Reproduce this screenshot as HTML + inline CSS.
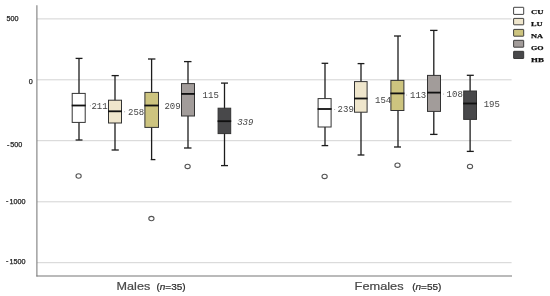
<!DOCTYPE html>
<html><head><meta charset="utf-8"><title>Boxplot</title>
<style>
html,body{margin:0;padding:0;background:#fff;}
body{width:550px;height:296px;overflow:hidden;}
svg{display:block;}
.yl{font-family:"Liberation Sans",Arial,sans-serif;font-size:7.2px;fill:#222;stroke:#222;stroke-width:0.25;}
.dl{font-family:"Liberation Mono","DejaVu Sans Mono",monospace;font-size:9px;fill:#444;}
.lg{font-family:"Liberation Serif","Times New Roman",serif;font-size:6.9px;font-weight:bold;fill:#111;stroke:#111;stroke-width:0.25;}
.xl{font-family:"Liberation Sans",Arial,sans-serif;font-size:10.6px;fill:#484848;stroke:#484848;stroke-width:0.2;}
.xn{font-family:"Liberation Sans",Arial,sans-serif;font-size:8.6px;fill:#2a2a2a;stroke:#2a2a2a;stroke-width:0.2;}
</style></head><body>
<svg width="550" height="296" viewBox="0 0 550 296">
<rect width="550" height="296" fill="#fff"/>

<line x1="37" y1="18.9" x2="511.6" y2="18.9" stroke="#d3d3d3" stroke-width="1"/>
<line x1="37" y1="79.8" x2="511.6" y2="79.8" stroke="#d3d3d3" stroke-width="1"/>
<line x1="37" y1="140.7" x2="511.6" y2="140.7" stroke="#d3d3d3" stroke-width="1"/>
<line x1="37" y1="201.8" x2="511.6" y2="201.8" stroke="#d3d3d3" stroke-width="1"/>
<line x1="37" y1="262.7" x2="511.6" y2="262.7" stroke="#d3d3d3" stroke-width="1"/>
<line x1="36.9" y1="5.2" x2="36.9" y2="276.5" stroke="#777" stroke-width="1.05"/>
<line x1="36.4" y1="276" x2="512" y2="276" stroke="#777" stroke-width="1.1"/>
<text class="yl" x="6.6" y="20.5">500</text>
<text class="yl" x="28.7" y="83.7">0</text>
<text class="yl" y="147.4"><tspan x="6.9" dy="-0.9">-</tspan><tspan x="10.3" dy="0.9">500</tspan></text>
<text class="yl" y="204"><tspan x="6.0" dy="-0.9">-</tspan><tspan x="9.5" dy="0.9">1000</tspan></text>
<text class="yl" y="264"><tspan x="6.0" dy="-0.9">-</tspan><tspan x="9.5" dy="0.9">1500</tspan></text>
<g stroke="#1c1c1c" stroke-width="1.3" fill="none">
<line x1="79" y1="58.4" x2="79" y2="140"/>
<line x1="75.6" y1="58.4" x2="82.5" y2="58.4"/>
<line x1="75.6" y1="140" x2="82.5" y2="140"/>
<rect x="72.2" y="93.4" width="13.0" height="29.0" fill="#ffffff" stroke="#333" stroke-width="1"/>
<line x1="71.7" y1="105.5" x2="85.7" y2="105.5" stroke="#111" stroke-width="1.8"/>
</g>
<g stroke="#1c1c1c" stroke-width="1.3" fill="none">
<line x1="115" y1="75.6" x2="115" y2="150"/>
<line x1="111.6" y1="75.6" x2="118.8" y2="75.6"/>
<line x1="111.6" y1="150" x2="118.8" y2="150"/>
<rect x="108.5" y="100.2" width="13" height="22.8" fill="#efe6cc" stroke="#333" stroke-width="1"/>
<line x1="108" y1="111.3" x2="122" y2="111.3" stroke="#111" stroke-width="1.8"/>
</g>
<g stroke="#1c1c1c" stroke-width="1.3" fill="none">
<line x1="151.6" y1="59" x2="151.6" y2="159.6"/>
<line x1="148" y1="59" x2="155.4" y2="59"/>
<line x1="150.7" y1="159.6" x2="155.4" y2="159.6"/>
<rect x="144.9" y="92.4" width="13.6" height="35.0" fill="#cdc47f" stroke="#333" stroke-width="1"/>
<line x1="144.4" y1="105.5" x2="159" y2="105.5" stroke="#111" stroke-width="1.8"/>
</g>
<g stroke="#1c1c1c" stroke-width="1.3" fill="none">
<line x1="188" y1="61.6" x2="188" y2="148"/>
<line x1="184" y1="61.6" x2="191.5" y2="61.6"/>
<line x1="184" y1="148" x2="191.5" y2="148"/>
<rect x="181.5" y="83.6" width="13" height="32.4" fill="#a29c9a" stroke="#333" stroke-width="1"/>
<line x1="181" y1="93.9" x2="195" y2="93.9" stroke="#111" stroke-width="1.8"/>
</g>
<g stroke="#1c1c1c" stroke-width="1.3" fill="none">
<line x1="224.5" y1="83.1" x2="224.5" y2="165.6"/>
<line x1="221" y1="83.1" x2="228" y2="83.1"/>
<line x1="221" y1="165.6" x2="228" y2="165.6"/>
<rect x="218.1" y="108.2" width="12.6" height="25.4" fill="#48484a" stroke="#333" stroke-width="1"/>
<line x1="217.6" y1="121.2" x2="231.2" y2="121.2" stroke="#111" stroke-width="1.8"/>
</g>
<g stroke="#1c1c1c" stroke-width="1.3" fill="none">
<line x1="325" y1="63.3" x2="325" y2="145.6"/>
<line x1="321.6" y1="63.3" x2="328.2" y2="63.3"/>
<line x1="321.6" y1="145.6" x2="328.2" y2="145.6"/>
<rect x="318.1" y="98.6" width="13.0" height="28.4" fill="#ffffff" stroke="#333" stroke-width="1"/>
<line x1="317.6" y1="109" x2="331.6" y2="109" stroke="#111" stroke-width="1.8"/>
</g>
<g stroke="#1c1c1c" stroke-width="1.3" fill="none">
<line x1="361" y1="63.6" x2="361" y2="155"/>
<line x1="357.6" y1="63.6" x2="364.4" y2="63.6"/>
<line x1="357.6" y1="155" x2="364.4" y2="155"/>
<rect x="354.5" y="81.6" width="12.6" height="30.6" fill="#efe6cc" stroke="#333" stroke-width="1"/>
<line x1="354" y1="98.5" x2="367.6" y2="98.5" stroke="#111" stroke-width="1.8"/>
</g>
<g stroke="#1c1c1c" stroke-width="1.3" fill="none">
<line x1="398" y1="36" x2="398" y2="147"/>
<line x1="394" y1="36" x2="401" y2="36"/>
<line x1="394" y1="147" x2="401" y2="147"/>
<rect x="390.9" y="80.4" width="13.0" height="30.1" fill="#cdc47f" stroke="#333" stroke-width="1"/>
<line x1="390.4" y1="93.4" x2="404.4" y2="93.4" stroke="#111" stroke-width="1.8"/>
</g>
<g stroke="#1c1c1c" stroke-width="1.3" fill="none">
<line x1="433.8" y1="30.4" x2="433.8" y2="134.4"/>
<line x1="430.1" y1="30.4" x2="437.5" y2="30.4"/>
<line x1="430.1" y1="134.4" x2="437.5" y2="134.4"/>
<rect x="427.5" y="75.4" width="13" height="36.0" fill="#a29c9a" stroke="#333" stroke-width="1"/>
<line x1="427" y1="92.6" x2="441" y2="92.6" stroke="#111" stroke-width="1.8"/>
</g>
<g stroke="#1c1c1c" stroke-width="1.3" fill="none">
<line x1="470.1" y1="75.3" x2="470.1" y2="151.4"/>
<line x1="466.8" y1="75.3" x2="473.8" y2="75.3"/>
<line x1="466.8" y1="151.4" x2="473.8" y2="151.4"/>
<rect x="463.7" y="91" width="12.8" height="28.4" fill="#48484a" stroke="#333" stroke-width="1"/>
<line x1="463.2" y1="103.5" x2="477" y2="103.5" stroke="#111" stroke-width="1.8"/>
</g>
<ellipse cx="78.6" cy="176" rx="2.6" ry="2.2" fill="#fff" stroke="#555" stroke-width="1.1"/>
<ellipse cx="151.4" cy="218.6" rx="2.6" ry="2.2" fill="#fff" stroke="#555" stroke-width="1.1"/>
<ellipse cx="187.6" cy="166.4" rx="2.6" ry="2.2" fill="#fff" stroke="#555" stroke-width="1.1"/>
<ellipse cx="324.6" cy="176.4" rx="2.6" ry="2.2" fill="#fff" stroke="#555" stroke-width="1.1"/>
<ellipse cx="397.5" cy="165.2" rx="2.6" ry="2.2" fill="#fff" stroke="#555" stroke-width="1.1"/>
<ellipse cx="470" cy="166.4" rx="2.6" ry="2.2" fill="#fff" stroke="#555" stroke-width="1.1"/>
<text class="dl" x="91.4" y="108.8">211</text>
<circle cx="90.4" cy="105.8" r="0.5" fill="#999"/>
<text class="dl" x="128" y="114.8">258</text>
<circle cx="124.6" cy="111.8" r="0.5" fill="#999"/>
<text class="dl" x="164.4" y="109">209</text>
<text class="dl" x="202.6" y="97.6">115</text>
<text class="dl" x="237.2" y="125" font-style="italic">339</text>
<text class="dl" x="337.6" y="112.4">239</text>
<circle cx="334.7" cy="109.4" r="0.5" fill="#999"/>
<text class="dl" x="375" y="103">154</text>
<text class="dl" x="410" y="98">113</text>
<circle cx="406.6" cy="95" r="0.5" fill="#999"/>
<text class="dl" x="446.6" y="97">108</text>
<circle cx="443.6" cy="94" r="0.5" fill="#999"/>
<text class="dl" x="483.7" y="107.4">195</text>
<rect x="513.6" y="7.3" width="10.1" height="7.1" rx="0.4" fill="#ffffff" stroke="#2e2e2e" stroke-width="0.9"/>
<text class="lg" x="531" y="14" textLength="12.4" lengthAdjust="spacingAndGlyphs">CU</text>
<rect x="513.6" y="18.4" width="10.1" height="6.4" rx="0.4" fill="#efe6cc" stroke="#2e2e2e" stroke-width="0.9"/>
<text class="lg" x="531" y="25.9" textLength="11.6" lengthAdjust="spacingAndGlyphs">LU</text>
<rect x="513.6" y="29.4" width="10.1" height="6.8" rx="0.4" fill="#cdc47f" stroke="#2e2e2e" stroke-width="0.9"/>
<text class="lg" x="531" y="38.2" textLength="12" lengthAdjust="spacingAndGlyphs">NA</text>
<rect x="513.6" y="40.3" width="10.1" height="6.9" rx="0.4" fill="#a29c9a" stroke="#2e2e2e" stroke-width="0.9"/>
<text class="lg" x="531" y="50.1" textLength="12.6" lengthAdjust="spacingAndGlyphs">GO</text>
<rect x="513.6" y="51.3" width="10.1" height="7.2" rx="0.4" fill="#48484a" stroke="#2e2e2e" stroke-width="0.9"/>
<text class="lg" x="531" y="62" textLength="12.8" lengthAdjust="spacingAndGlyphs">HB</text>
<text class="xl" x="116.6" y="290" textLength="33.6" lengthAdjust="spacingAndGlyphs">Males</text>
<text class="xn" x="156.4" y="290" textLength="29.2" lengthAdjust="spacingAndGlyphs">(<tspan font-style="italic">n</tspan>=35)</text>
<text class="xl" x="354.6" y="290" textLength="49" lengthAdjust="spacingAndGlyphs">Females</text>
<text class="xn" x="412.2" y="290" textLength="29.2" lengthAdjust="spacingAndGlyphs">(<tspan font-style="italic">n</tspan>=55)</text>
</svg></body></html>
